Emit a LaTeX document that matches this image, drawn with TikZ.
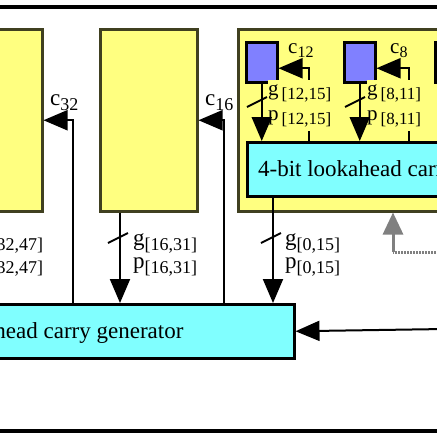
\documentclass[tikz,border=0pt]{standalone}
\usepackage{fontspec}
\setmainfont{Liberation Serif}
\usepackage{tikz}
\usetikzlibrary{arrows.meta}

\definecolor{yelfill}{RGB}{255,255,128}
\definecolor{yeldraw}{RGB}{64,64,32}
\definecolor{cyanfill}{RGB}{128,255,255}
\definecolor{bluefill}{RGB}{128,128,255}
\definecolor{grayline}{RGB}{128,128,128}

\newcommand{\idx}[1]{\raisebox{-5pt}{\fontsize{18}{18}\selectfont #1}}
\newcommand{\sidx}[1]{\hspace{3pt}\raisebox{-4pt}{\fontsize{17}{17}\selectfont #1}}
\newcommand{\cidx}[1]{\raisebox{-4pt}{\fontsize{16}{16}\selectfont #1}}

\begin{document}
\begin{tikzpicture}[x=1pt,y=-1pt,
  big tip/.style={-{Triangle[length=24pt,width=20pt]},line width=2pt},
  gray tip/.style={-{Triangle[length=22pt,width=20pt]},line width=3pt,draw=grayline},
  gray dots/.style={dash pattern=on 2pt off 1pt,line width=3pt,draw=grayline},
  yellow box/.style={draw=yeldraw,fill=yelfill,line width=2.5pt,inner sep=0pt,anchor=north west},
  blue box/.style={draw,fill=bluefill,line width=2.5pt,inner sep=0pt,anchor=north west,
    minimum width=31pt,minimum height=40pt},
  cyan box/.style={draw,fill=cyanfill,line width=2.5pt,inner sep=0pt,anchor=north west,
    minimum height=54pt,text depth=2pt,font=\fontsize{23}{27}\selectfont},
  sig label/.style={anchor=base west,inner sep=0pt,font=\fontsize{23}{27}\selectfont},
  inner label/.style={sig label,fill=yelfill,inner ysep=4pt,font=\fontsize{21}{25}\selectfont},
  slash/.style={line width=2pt}]

  \useasboundingbox (0,0) rectangle (437,437);
  \clip (0,0) rectangle (437,437);

  \draw[line width=3.5pt] (-5,7) -- (445,7);
  \draw[line width=3.5pt] (-5,431) -- (445,431);

  \node[yellow box,minimum width=97pt,minimum height=182pt] (yel1) at (-56,28) {};
  \node[yellow box,minimum width=97pt,minimum height=182pt] (yel2) at (99,28) {};
  \node[yellow box,minimum width=300pt,minimum height=182pt] (yel3) at (237,28) {};
  \node[blue box] (blu1) at (245,41) {};
  \node[blue box] (blu2) at (343,41) {};
  \node[blue box] (blu3) at (434,41) {};
  \node[cyan box,minimum width=311pt] (cla4) at (246,141) {4-bit lookahead carry generator};
  \node[cyan box,minimum width=511pt] (gen) at (-218,303) {4-bit lookahead carry generator};

  \coordinate (x32) at (73,0);
  \coordinate (x16) at (224,0);
  \coordinate (x12) at (309,0);
  \coordinate (x8) at (409,0);
  \coordinate (gp16) at (120,0);
  \coordinate (gp0) at (273,0);
  \coordinate (cin) at (393,252);
  \coordinate (cinend) at (445,252);
  \coordinate (rin) at (445,329);

  \draw[big tip] (gen.north -| x32) |- (yel1.east);
  \draw[big tip] (gen.north -| x16) |- (yel2.east);
  \draw[big tip] (cla4.north -| x12) |- ([yshift=-6pt]blu1.east);
  \draw[big tip] (cla4.north -| x8) |- ([yshift=-6pt]blu2.east);

  \node[sig label] (c32) at (50,105) {c\idx{32}};
  \node[sig label] (c16) at (205,105) {c\idx{16}};
  \node[sig label,font=\fontsize{21}{25}\selectfont] (c12) at (288,53) {c\cidx{12}};
  \node[sig label,font=\fontsize{21}{25}\selectfont] (c8) at (390,53) {c\cidx{8}};

  \node[sig label] (g32) at (-21,245) {g\idx{[32,47]}};
  \node[sig label] (p32) at (-21,268) {p\idx{[32,47]}};
  \node[sig label] (g16) at (133,245) {g\idx{[16,31]}};
  \node[sig label] (p16) at (133,268) {p\idx{[16,31]}};
  \node[sig label] (g0) at (285,245) {g\idx{[0,15]}};
  \node[sig label] (p0) at (285,268) {p\idx{[0,15]}};
  \node[inner label] (g12) at (268,95) {g\sidx{[12,15]}};
  \node[inner label] (p12) at (268,120) {p\sidx{[12,15]}};
  \node[inner label] (g8) at (367,95) {g\sidx{[8,11]}};
  \node[inner label] (p8) at (367,120) {p\sidx{[8,11]}};

  \draw[big tip] (blu1.south) -- (blu1.south |- cla4.north);
  \draw[big tip] (blu2.south) -- (blu2.south |- cla4.north);
  \draw[big tip] (yel2.south -| gp16) -- (gen.north -| gp16);
  \draw[big tip] (cla4.south -| gp0) -- (gen.north -| gp0);
  \draw[big tip] (rin) -- (gen.east);

  \draw[gray tip] (cin) -- (cin |- yel3.south);
  \draw[gray dots] (cinend) -- (cin);

  \draw[slash] (108,243) -- (128,233);
  \draw[slash] (261,243) -- (281,233);
  \draw[slash] (247,107) -- (267,97);
  \draw[slash] (345,107) -- (365,97);
\end{tikzpicture}
\end{document}
